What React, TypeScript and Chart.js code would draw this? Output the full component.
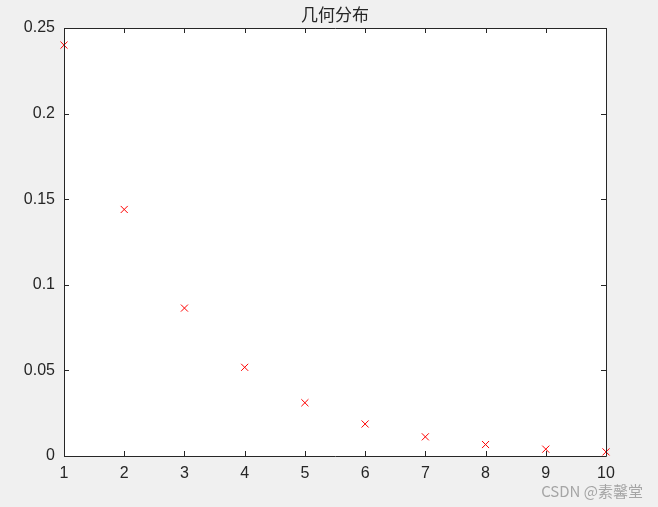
import React, { useEffect, useRef } from "react";
import { Chart, registerables } from "chart.js";

Chart.register(...registerables);

const titleText = "几何分布";
const watermark = "CSDN @素馨堂";
const xValues = [1, 2, 3, 4, 5, 6, 7, 8, 9, 10];
const yValues = [0.24, 0.144, 0.0864, 0.0518, 0.0311, 0.0187, 0.0112, 0.0067, 0.004, 0.0024];
const xTickValues = [1, 2, 3, 4, 5, 6, 7, 8, 9, 10];
const yTickValues = [0, 0.05, 0.1, 0.15, 0.2, 0.25];
const yTickLabels = ["0", "0.05", "0.1", "0.15", "0.2", "0.25"];

const AXIS_COLOR = "#262626";

const framePlugin = {
  id: "frame",
  afterDraw(chart: any) {
    const { ctx, chartArea } = chart;
    const { left, right, top, bottom } = chartArea;
    const xs = chart.scales.x;
    const ys = chart.scales.y;
    ctx.save();
    ctx.strokeStyle = AXIS_COLOR;
    ctx.lineWidth = 1;
    ctx.beginPath();
    ctx.rect(Math.round(left) + 0.5, Math.round(top) + 0.5, Math.round(right - left), Math.round(bottom - top));
    ctx.stroke();
    const tl = 5;
    ctx.beginPath();
    for (const v of xTickValues) {
      const px = Math.round(xs.getPixelForValue(v)) + 0.5;
      ctx.moveTo(px, bottom);
      ctx.lineTo(px, bottom - tl);
      ctx.moveTo(px, top);
      ctx.lineTo(px, top + tl);
    }
    for (const v of yTickValues) {
      const py = Math.round(ys.getPixelForValue(v)) + 0.5;
      ctx.moveTo(left, py);
      ctx.lineTo(left + tl, py);
      ctx.moveTo(right, py);
      ctx.lineTo(right - tl, py);
    }
    ctx.stroke();
    // title
    ctx.fillStyle = AXIS_COLOR;
    ctx.font = '17px "Noto Sans CJK SC", sans-serif';
    ctx.textAlign = "center";
    ctx.textBaseline = "alphabetic";
    ctx.fillText(titleText, (left + right) / 2, 21);
    // watermark
    ctx.fillStyle = "rgba(140,140,140,0.75)";
    ctx.font = '15px "Noto Sans CJK SC", sans-serif';
    ctx.textAlign = "right";
    ctx.fillText(watermark, 643, 497);
    ctx.restore();
  },
};

export default function App() {
  const ref = useRef<HTMLCanvasElement | null>(null);
  useEffect(() => {
    document.body.style.margin = "0";
    document.body.style.background = "#f0f0f0";
    const chart = new Chart(ref.current as HTMLCanvasElement, {
      type: "scatter",
      data: {
        datasets: [
          {
            data: xValues.map((x, i) => ({ x, y: yValues[i] })),
            pointStyle: "crossRot",
            pointRadius: 5,
            pointBorderColor: "#ff0000",
            pointBackgroundColor: "#ff0000",
            pointBorderWidth: 1,
            clip: false,
          } as any,
        ],
      },
      options: {
        animation: false,
        responsive: false,
        maintainAspectRatio: false,
        layout: { padding: { top: 28, right: 52, left: 0, bottom: 0 } },
        plugins: {
          legend: { display: false },
          tooltip: { enabled: false },
          title: { display: false },
        } as any,
        scales: {
          x: {
            type: "linear",
            min: 1,
            max: 10,
            grid: { display: false, drawTicks: false },
            border: { display: false },
            afterFit(scale: any) {
              scale.height = 51;
            },
            afterBuildTicks(scale: any) {
              scale.ticks = xTickValues.map((v) => ({ value: v }));
            },
            ticks: {
              color: AXIS_COLOR,
              font: { family: "Arial, 'Liberation Sans', sans-serif", size: 16 },
              padding: 8,
              maxRotation: 0,
              autoSkip: false,
              callback: (v: any) => String(v),
            },
          },
          y: {
            type: "linear",
            min: 0,
            max: 0.25,
            grid: { display: false, drawTicks: false },
            border: { display: false },
            afterFit(scale: any) {
              scale.width = 64;
            },
            afterBuildTicks(scale: any) {
              scale.ticks = yTickValues.map((v) => ({ value: v }));
            },
            ticks: {
              color: AXIS_COLOR,
              font: { family: "Arial, 'Liberation Sans', sans-serif", size: 16 },
              padding: 9,
              autoSkip: false,
              callback: (v: any) => {
                const i = yTickValues.findIndex((t) => Math.abs(t - v) < 1e-9);
                return i >= 0 ? yTickLabels[i] : "";
              },
            },
          },
        },
      },
      plugins: [
        {
          id: "chartAreaBg",
          beforeDraw(chart: any) {
            const { ctx, chartArea } = chart;
            ctx.save();
            ctx.fillStyle = "#ffffff";
            ctx.fillRect(chartArea.left, chartArea.top, chartArea.right - chartArea.left, chartArea.bottom - chartArea.top);
            ctx.restore();
          },
        },
        framePlugin,
      ],
    });
    return () => chart.destroy();
  }, []);
  return (
    <div style={{ width: 658, height: 507, background: "#f0f0f0" }}>
      <canvas ref={ref} width={658} height={507} style={{ display: "block" }} />
    </div>
  );
}
